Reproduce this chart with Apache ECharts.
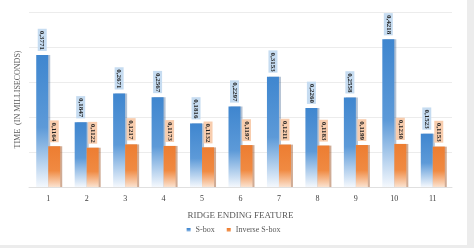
<!DOCTYPE html>
<html>
<head>
<meta charset="utf-8">
<script src="https://cdn.jsdelivr.net/npm/echarts@6/dist/echarts.min.js"></script>
<style>
  html, body { margin: 0; padding: 0; background: #ececec; }
  #chart { width: 467px; height: 245px; background: #ffffff; }
</style>
</head>
<body>
<div id="chart"></div>
<script>
// ridge ending features 1..11
const categories = ["1", "2", "3", "4", "5", "6", "7", "8", "9", "10", "11"];
const sBox = [0.3771, 0.1847, 0.2671, 0.2567, 0.1816, 0.2297, 0.3153, 0.2260, 0.2558, 0.4218, 0.1523];
const inverseSBox = [0.1164, 0.1122, 0.1217, 0.1173, 0.1132, 0.1197, 0.1211, 0.1183, 0.1199, 0.1230, 0.1153];

const serif = "Liberation Serif";
const fmt = (p) => p.value.toFixed(4).replace(".", ",");

const chart = echarts.init(document.getElementById("chart"), null, { renderer: "canvas" });

const makeLabel = (bg) => ({
  show: true,
  position: "top",
  rotate: -90,
  align: "right",
  verticalAlign: "middle",
  distance: 4,
  formatter: fmt,
  fontFamily: serif,
  fontSize: 7,
  fontWeight: "bold",
  color: "#1f1f1f",
  backgroundColor: bg,
  padding: [1, 1, 1, 2],
});

chart.setOption({
  animation: false,
  grid: { left: 29, right: 15, top: 12, bottom: 58 },
  legend: {
    bottom: 6,
    left: "center",
    itemWidth: 4,
    itemHeight: 4,
    itemGap: 12,
    icon: "rect",
    textStyle: { fontFamily: serif, fontSize: 8, color: "#595959" },
    data: ["S-box", "Inverse S-box"],
  },
  xAxis: {
    type: "category",
    data: categories,
    name: "RIDGE ENDING FEATURE",
    nameLocation: "middle",
    nameGap: 24,
    nameTextStyle: { fontFamily: serif, fontSize: 9, color: "#595959" },
    axisLine: { lineStyle: { color: "#e0e0e0" } },
    axisTick: { show: false },
    axisLabel: { fontFamily: serif, fontSize: 8, color: "#404040", margin: 8 },
  },
  yAxis: {
    type: "value",
    min: 0,
    max: 0.5,
    interval: 0.1,
    name: "TIME  (IN MILLISECONDS)",
    nameLocation: "middle",
    nameGap: 7,
    nameTextStyle: { fontFamily: serif, fontSize: 8, color: "#595959" },
    axisLine: { show: false },
    axisTick: { show: false },
    axisLabel: { show: false },
    splitLine: { lineStyle: { color: "#ececec" } },
  },
  series: [
    {
      name: "S-box",
      type: "bar",
      data: sBox,
      barWidth: 12,
      barGap: "0%",
      itemStyle: {
        color: new echarts.graphic.LinearGradient(0, 0, 0, 1, [
          { offset: 0, color: "#3f86cf" },
          { offset: 0.55, color: "#5d9ad8" },
          { offset: 1, color: "#f4f8fd" },
        ]),
        borderColor: "#2f6aa6",
        borderWidth: 0,
        shadowColor: "rgba(40,80,130,0.35)",
        shadowOffsetX: 2,
        shadowBlur: 0,
      },
      label: makeLabel("#c6dcf1"),
    },
    {
      name: "Inverse S-box",
      type: "bar",
      data: inverseSBox,
      barWidth: 12,
      itemStyle: {
        color: new echarts.graphic.LinearGradient(0, 0, 0, 1, [
          { offset: 0, color: "#ed7d31" },
          { offset: 0.6, color: "#f08a42" },
          { offset: 1, color: "#fbe2cf" },
        ]),
        shadowColor: "rgba(150,70,20,0.45)",
        shadowOffsetX: 2,
        shadowBlur: 0,
      },
      label: makeLabel("#f8cdae"),
    },
  ],
});
</script>
</body>
</html>
